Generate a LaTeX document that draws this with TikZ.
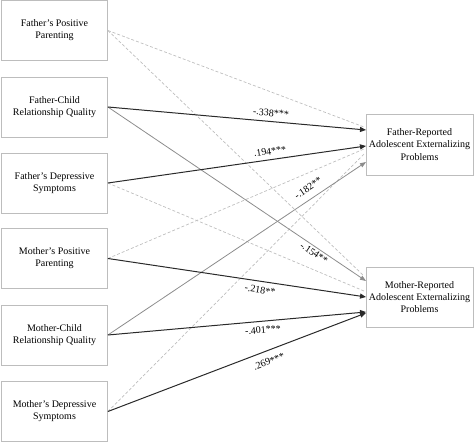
\documentclass[tikz,border=0pt]{standalone}
\usepackage{fontspec}
\setmainfont{Liberation Serif}
\usetikzlibrary{arrows.meta}
\definecolor{boxgray}{HTML}{BDBDBD}
\definecolor{linedark}{HTML}{2A2A2A}
\definecolor{linegray}{HTML}{8C8C8C}
\definecolor{dashgray}{HTML}{BEBEBE}
\begin{document}
\begin{tikzpicture}[x=1pt,y=-1pt,
  font=\fontsize{10}{12.2}\selectfont,
  lbox/.style={draw=boxgray, line width=0.8pt, minimum width=106pt, minimum height=60pt, align=center, inner sep=1pt},
  rbox/.style={draw=boxgray, line width=0.8pt, minimum width=107pt, minimum height=60pt, align=center, inner sep=1pt},
  sig/.style={draw=linedark, line width=1pt, -{Triangle[length=6pt,width=5pt]}},
  siggray/.style={draw=linegray, line width=0.8pt, -{Triangle[length=6pt,width=4.5pt,fill=linegray]}},
  ns/.style={draw=dashgray, line width=0.7pt, dash pattern=on 3pt off 2pt},
  coef/.style={inner sep=0.5pt}]
\useasboundingbox (0,0) rectangle (474,443);
% left boxes
\node[lbox] (fpp)  at (54.5,30.5)  {Father’s Positive\\Parenting};
\node[lbox] (fcrq) at (54.5,107)   {Father-Child\\Relationship Quality};
\node[lbox] (fds)  at (54.5,183)   {Father’s Depressive\\Symptoms};
\node[lbox] (mpp)  at (54.5,258.5) {Mother’s Positive\\Parenting};
\node[lbox] (mcrq) at (54.5,335)   {Mother-Child\\Relationship Quality};
\node[lbox] (mds)  at (54.5,411.5) {Mother’s Depressive\\Symptoms};
% right boxes
\node[rbox, minimum height=61pt] (fr) at (419.5,144.5) {Father-Reported\\Adolescent Externalizing\\Problems};
\node[rbox] (mr) at (419.5,297) {Mother-Reported\\Adolescent Externalizing\\Problems};
% end points on the left side of the outcome boxes
\coordinate (fr1) at (364,127);
\coordinate (fr2) at (366,130);
\coordinate (fr3) at (366,146);
\coordinate (fr4) at (364,149);
\coordinate (fr5) at (364,154);
\coordinate (fr6) at (366,162);
\coordinate (mr1) at (364,276);
\coordinate (mr2) at (366,281);
\coordinate (mr3) at (364,291);
\coordinate (mr4) at (366,297);
\coordinate (mr5) at (366,312);
\coordinate (mr6) at (366,313);
% non-significant paths
\draw[ns] (fpp.east) -- (fr1);
\draw[ns] (fpp.east) -- (mr1);
\draw[ns] (fds.east) -- (mr3);
\draw[ns] (mpp.east) -- (fr4);
\draw[ns] (mds.east) -- (fr5);
% gray paths
\draw[siggray] (fcrq.east) -- (mr2);
\draw[siggray] (mcrq.east) -- (fr6);
% black paths
\draw[sig] (fcrq.east) -- (fr2);
\draw[sig] (fds.east) -- (fr3);
\draw[sig] (mpp.east) -- (mr4);
\draw[sig] (mcrq.east) -- (mr5);
\draw[sig] (mds.east) -- (mr6);
% coefficients
\node[coef, rotate=-5]   (c1) at (271,113)   {-.338***};
\node[coef, rotate=8]    (c2) at (270,151.5) {.194***};
\node[coef, rotate=34]   (c3) at (308,188)   {-.182**};
\node[coef, rotate=-34]  (c4) at (314,253)   {-.154**};
\node[coef, rotate=-8.5] (c5) at (260,290)   {-.218**};
\node[coef, rotate=5]    (c6) at (263,330)   {-.401***};
\node[coef, rotate=21]   (c7) at (269,361.5) {.269***};
\end{tikzpicture}
\end{document}
